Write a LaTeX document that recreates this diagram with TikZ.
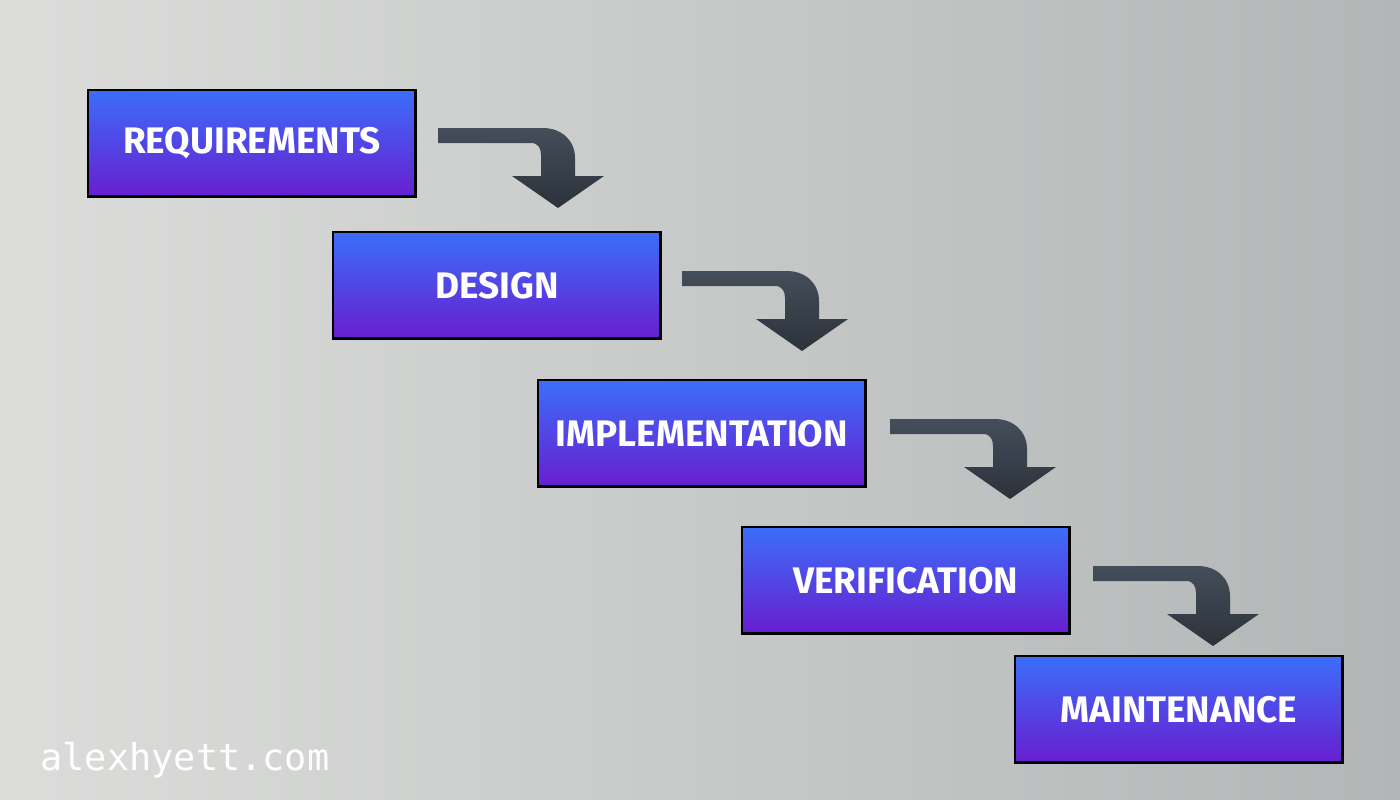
\documentclass[tikz,border=0pt]{standalone}
\usepackage{fontspec}
\setmainfont{Fira Sans}
\newfontfamily\monof{DejaVu Sans Mono}
\definecolor{btop}{RGB}{59,110,250}
\definecolor{bbot}{RGB}{104,30,208}
\definecolor{atop}{RGB}{68,78,90}
\definecolor{abot}{RGB}{44,50,58}
\definecolor{bgl}{RGB}{220,221,219}
\definecolor{bgr}{RGB}{178,182,182}
\begin{document}
\begin{tikzpicture}[x=0.01cm,y=-0.01cm,
  stage/.style={draw=black,line width=0.7pt,top color=btop,bottom color=bbot,minimum width=3.27cm,minimum height=1.06cm,font=\bfseries\fontsize{10.5}{12}\selectfont,text=white,anchor=north west,inner sep=0pt},
  arr/.style={top color=atop,bottom color=abot}]
\shade[left color=bgl,right color=bgr] (0,0) rectangle (1400,800);
\useasboundingbox (0,0) rectangle (1400,800);
\node[stage] (req) at (87,89) {REQUIREMENTS};
\node[stage] (des) at (332,231) {DESIGN};
\node[stage] (imp) at (537,379) {IMPLEMENTATION};
\node[stage] (ver) at (741,526) {VERIFICATION};
\node[stage] (mai) at (1014,655) {MAINTENANCE};
\foreach \dx/\dy in {0/0,244/143,452/291,655/438}{
\begin{scope}[shift={(\dx,\dy)}]
\shade[arr] (438,128) -- (543,128) .. controls (561,128) and (575,140) .. (575,158) -- (575,176) -- (604,176) -- (558,208) -- (512,176) -- (541,176) -- (541,155) .. controls (541,148) and (538,143) .. (531,143) -- (438,143) -- cycle;
\end{scope}}
\node[anchor=west,text=white,font=\monof\fontsize{10.5}{12}\selectfont] (wm) at (28,760) {alexhyett.com};
\end{tikzpicture}
\end{document}
